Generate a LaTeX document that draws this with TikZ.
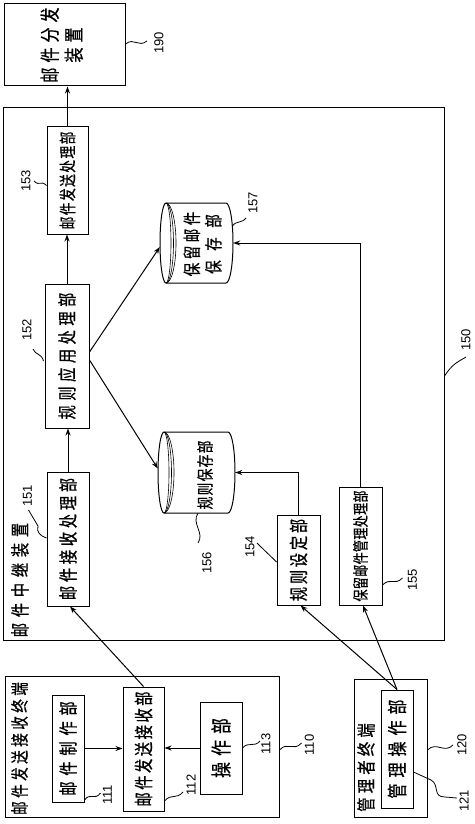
\documentclass[tikz,border=0pt]{standalone}
\usepackage{fontspec}
\setmainfont{Liberation Sans}
\newfontfamily\cjk{Noto Sans CJK SC}[FakeBold=0.8]
\usepackage{graphicx}
\usetikzlibrary{arrows.meta,calc}
\makeatletter
\newcommand\mytrack[2]{\let\mt@sep\relax\@tfor\mt@c:=#2\do{\mt@sep\mt@c\def\mt@sep{\kern#1pt}}}
\makeatother
\newcommand\cjl[3]{\scalebox{0.75}[1]{\fontsize{#1}{#1}\selectfont\cjk\mytrack{#2}{#3}}}
\newcommand\cjt[3]{\rotatebox{90}{\cjl{#1}{#2}{#3}}}
\newcommand\reflab[1]{\rotatebox{90}{\fontsize{13}{13}\selectfont #1}}
% cylinder: cx1, cx2, cy, rx left, rx right, ry
\newcommand\mycyl[6]{%
  \draw[blkline] ({#1},{#3-#6}) -- ({#2},{#3-#6})
    .. controls ({#2+0.5523*#5},{#3-#6}) and ({#2+#5},{#3-0.5523*#6}) .. ({#2+#5},{#3})
    .. controls ({#2+#5},{#3+0.5523*#6}) and ({#2+0.5523*#5},{#3+#6}) .. ({#2},{#3+#6})
    -- ({#1},{#3+#6})
    .. controls ({#1-0.5523*#4},{#3+#6}) and ({#1-#4},{#3+0.5523*#6}) .. ({#1-#4},{#3})
    .. controls ({#1-#4},{#3-0.5523*#6}) and ({#1-0.5523*#4},{#3-#6}) .. ({#1},{#3-#6});
  \foreach \rr in {5,7.5,10} {
    \draw[line width=0.6pt] ({#1},{#3-#6})
      .. controls ({#1+0.5523*\rr},{#3-#6}) and ({#1+\rr},{#3-0.5523*#6}) .. ({#1+\rr},{#3})
      .. controls ({#1+\rr},{#3+0.5523*#6}) and ({#1+0.5523*\rr},{#3+#6}) .. ({#1},{#3+#6});
  }%
}
\begin{document}
\begin{tikzpicture}[x=1pt,y=-1pt,
  blkline/.style={line width=1pt},
  blk/.style={draw,line width=1pt,inner sep=0pt,rectangle},
  conn/.style={draw,line width=1pt,-{Stealth[length=7pt,width=5pt]}},
  ldr/.style={line width=0.8pt},
  lab/.style={inner sep=0pt}]
\useasboundingbox (0,0) rectangle (474,824);
\fill[white] (0,0) rectangle (474,824);

% boxes
\node[blk,minimum width=121,minimum height=82] (n190) at (64.5,45)
  {\rotatebox{90}{\fontsize{20}{24}\selectfont\begin{tabular}{@{}c@{}}\cjl{20}{6.7}{邮件分发}\\\cjl{20}{6.7}{装置}\end{tabular}}};
\node[blk,minimum width=441,minimum height=532] (n150) at (223.5,374) {};
\node[blk,minimum width=41,minimum height=107] (n153) at (67.5,180.5) {\cjt{17}{1.9}{邮件发送处理部}};
\node[blk,minimum width=44,minimum height=144] (n152) at (67,356) {\cjt{19}{6}{规则应用处理部}};
\node[blk,minimum width=42,minimum height=134] (n151) at (68,539) {\cjt{19}{5}{邮件接收处理部}};
\node[blk,minimum width=43,minimum height=90] (n154) at (298.5,560) {\cjt{19}{3.7}{规则设定部}};
\node[blk,minimum width=43,minimum height=118] (n155) at (360.5,546) {\cjt{16}{0.5}{保留邮件管理处理部}};
\node[blk,minimum width=274,minimum height=141] (n110) at (142,746.5) {};
\node[blk,minimum width=32,minimum height=107] (n111) at (68,748.5) {\cjt{19}{7.7}{邮件制作部}};
\node[blk,minimum width=41,minimum height=124] (n112) at (143.5,749) {\cjt{19}{3.4}{邮件发送接收部}};
\node[blk,minimum width=42,minimum height=92] (n113) at (221,748) {\cjt{21}{8.3}{操作部}};
\node[blk,minimum width=73,minimum height=138] (n120) at (390.5,748) {};
\node[blk,minimum width=32,minimum height=118] (n121) at (397,749) {\cjt{20}{8}{管理操作部}};

% cylinders
\mycyl{166}{226}{243}{6}{7}{40}
\node[inner sep=0pt,minimum width=73,minimum height=80] (n157) at (196.5,243) {};
\node[lab] (t157) at (205,244)
  {\rotatebox{90}{\fontsize{18}{21}\selectfont\begin{tabular}{@{}c@{}}\cjl{18}{4.7}{保留邮件}\\\cjl{18}{12.7}{保存部}\end{tabular}}};
\mycyl{164}{228}{472.5}{6}{7}{40.5}
\node[inner sep=0pt,minimum width=77,minimum height=81] (n156) at (196.5,472.5) {};
\node[lab] (t156) at (205,475) {\cjt{17}{1.7}{规则保存部}};

% headings
\node[lab] (t150) at (20,580) {\cjt{19}{7.7}{邮件中继装置}};
\node[lab] (t110) at (19.5,748.5) {\cjt{18}{4.7}{邮件发送接收终端}};
\node[lab] (t120) at (366,767.5) {\cjt{19}{5.7}{管理者终端}};

% connectors
\draw[conn] (n151.north) -- (n151.north |- n152.south);
\draw[conn] (n152.north) -- (n152.north |- n153.south);
\draw[conn] (n153.north) -- (n153.north |- n190.south);
\draw[conn] ($(n152.east)+(0,-4)$) -- ($(n157.west)+(0,4)$);
\draw[conn] ($(n152.east)+(0,4)$) -- ($(n156.west)+(0,-4)$);
\draw[conn] (n154.north) |- (n156.east);
\draw[conn] (n155.north) |- (n157.east);
\draw[conn] (n112.north) -- ($(n151.south)+(2,0)$);
\draw[conn] (n111.east) -- (n111.east -| n112.west);
\draw[conn] (n113.west) -- (n113.west -| n112.east);
\draw[conn] (n121.north) -- ($(n154.south)+(2,0)$);
\draw[conn] (n121.north) -- ($(n155.south)+(2.5,0)$);

% reference labels
\node[lab] (l190) at (159,43) {\reflab{190}};
\node[lab] (l153) at (26,181) {\reflab{153}};
\node[lab] (l152) at (27,330) {\reflab{152}};
\node[lab] (l151) at (27.5,496) {\reflab{151}};
\node[lab] (l157) at (253,203) {\reflab{157}};
\node[lab] (l156) at (207,563) {\reflab{156}};
\node[lab] (l154) at (250,547) {\reflab{154}};
\node[lab] (l155) at (412.5,580) {\reflab{155}};
\node[lab] (l150) at (466,340) {\reflab{150}};
\node[lab] (l111) at (107.5,795) {\reflab{111}};
\node[lab] (l112) at (191,785) {\reflab{112}};
\node[lab] (l113) at (266,744) {\reflab{113}};
\node[lab] (l110) at (309.5,745) {\reflab{110}};
\node[lab] (l120) at (462,745) {\reflab{120}};
\node[lab] (l121) at (464,801) {\reflab{121}};

% leaders
\draw[ldr] ($(n190.east)+(0,-1)$) .. controls +(9,-7) and +(-9,7) .. ($(l190)+(-12,-2)$);
\draw[ldr] ($(n153.west)+(0,5)$) .. controls +(-6,-6) and +(6,6) .. ($(l153)+(8,0)$);
\draw[ldr] ($(n152.west)+(-1,5)$) .. controls +(-2,-8) and +(2,6) .. ($(l152)+(6,19)$);
\draw[ldr] ($(n151.west)+(0,-1)$) .. controls +(-6,-2) and +(-2,6) .. (38,526) -- ($(l151)+(1,14)$);
\draw[ldr] ($(n157.east)+(-1,-17)$) .. controls +(5,-6) and +(-5,6) .. ($(l157)+(-7,15)$);
\draw[ldr] ($(n156.south)+(1.5,0)$) .. controls +(-7,10) and +(7,-10) .. ($(l156)+(-9,-20)$);
\draw[ldr] ($(n154.west)+(0,2)$) .. controls +(-8,-8) and +(8,8) .. ($(l154)+(7,-4)$);
\draw[ldr] ($(n155.east)+(0,39)$) .. controls +(8,-8) and +(-8,8) .. ($(l155)+(-10,-2)$);
\draw[ldr] ($(n150.east)+(0,2)$) .. controls +(8,-12) and +(-10,6) .. ($(l150)+(0,17)$);
\draw[ldr] ($(n111.east)+(0,51.5)$) .. controls +(6,-8) and +(-6,8) .. ($(l111)+(-7,-2)$);
\draw[ldr] ($(n112.east)+(0,52)$) .. controls +(7,-8) and +(-7,8) .. ($(l112)+(-8,7)$);
\draw[ldr] (n113.east) .. controls +(6,-7) and +(-6,7) .. ($(l113)+(-6,-3)$);
\draw[ldr] ($(n110.east)+(0,3.5)$) .. controls +(8,-9) and +(-8,9) .. ($(l110)+(-8,-2)$);
\draw[ldr] ($(n120.east)+(0,2)$) .. controls +(9,-9) and +(-9,9) .. ($(l120)+(-9,0)$);
\draw[ldr] ($(n121.east)+(0,23)$) -- (431,780) .. controls (440,785) and (432,797) .. (445,797) -- ($(l121)+(-7,-3)$);
\end{tikzpicture}
\end{document}
